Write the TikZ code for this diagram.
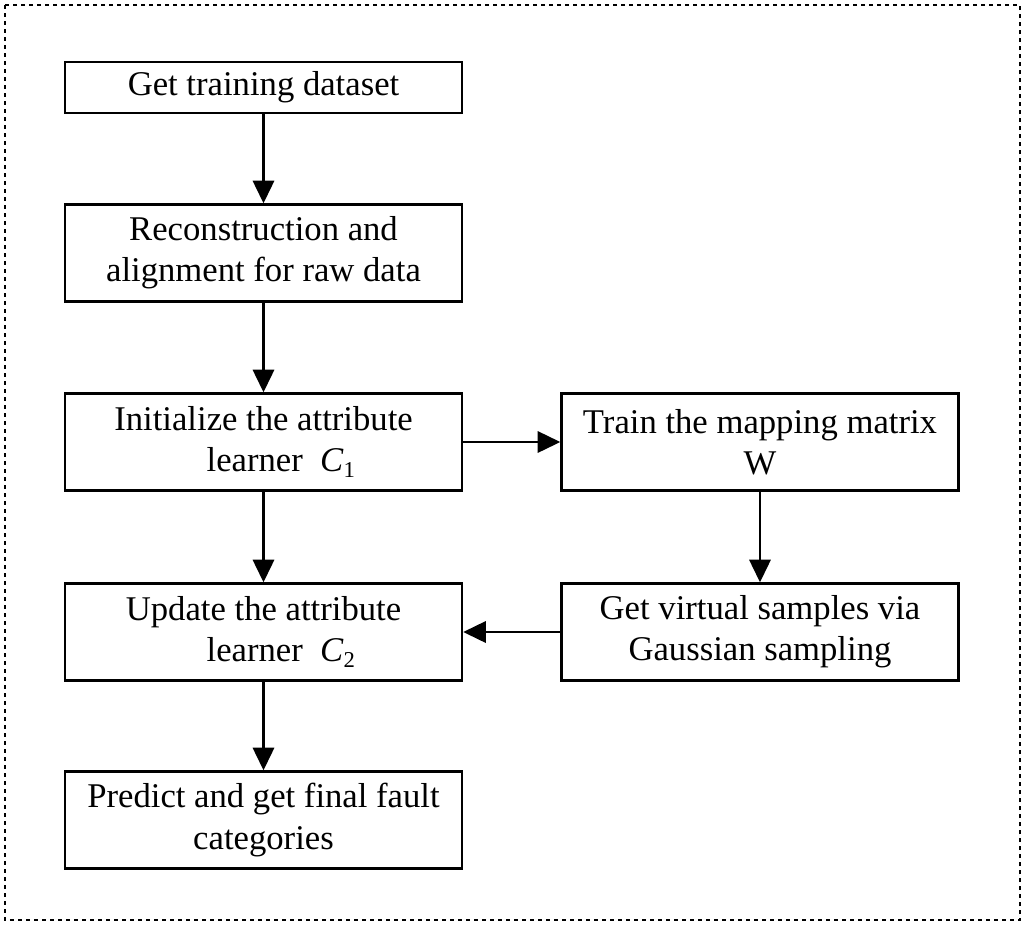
\documentclass[tikz,border=0pt]{standalone}
\usepackage{fontspec}
\setmainfont{Liberation Serif}
\usetikzlibrary{arrows.meta}
\newcommand{\subC}[1]{\textit{C}\raisebox{-0.35ex}{\fontsize{17}{17}\selectfont #1}}
\begin{document}
\begin{tikzpicture}[x=0.75pt,y=-0.75pt,
  box/.style={draw,line width=1.8pt,minimum width=397*0.75pt,minimum height=97*0.75pt,align=center,inner sep=0pt,font=\fontsize{26}{31}\selectfont},
  sbox/.style={box,minimum height=51*0.75pt},
  arr/.style={line width=1.8pt,-{Triangle[length=17pt,width=16pt]}}]
\useasboundingbox (0,0) rectangle (1025,926);
\draw[dashed,line width=1pt] (5,5) rectangle (1020,920);
\node[sbox] (a) at (263.5,87.5) {Get training dataset};
\node[box] (b) at (263.5,253) {Reconstruction and\\alignment for raw data};
\node[box] (c) at (263.5,442) {Initialize the attribute\\\quad learner\ \ \subC{1}};
\node[box] (d) at (263.5,632) {Update the attribute\\\quad learner\ \ \subC{2}};
\node[box] (e) at (263.5,820) {Predict and get final fault\\categories};
\node[box] (f) at (760,442) {Train the mapping matrix\\W};
\node[box] (g) at (760,632) {Get virtual samples via\\Gaussian sampling};
\draw[arr] (a) -- (b);
\draw[arr] (b) -- (c);
\draw[arr] (c) -- (d);
\draw[arr] (d) -- (e);
\draw[arr] (c) -- (f);
\draw[arr] (f) -- (g);
\draw[arr] (g) -- (d);
\end{tikzpicture}
\end{document}
